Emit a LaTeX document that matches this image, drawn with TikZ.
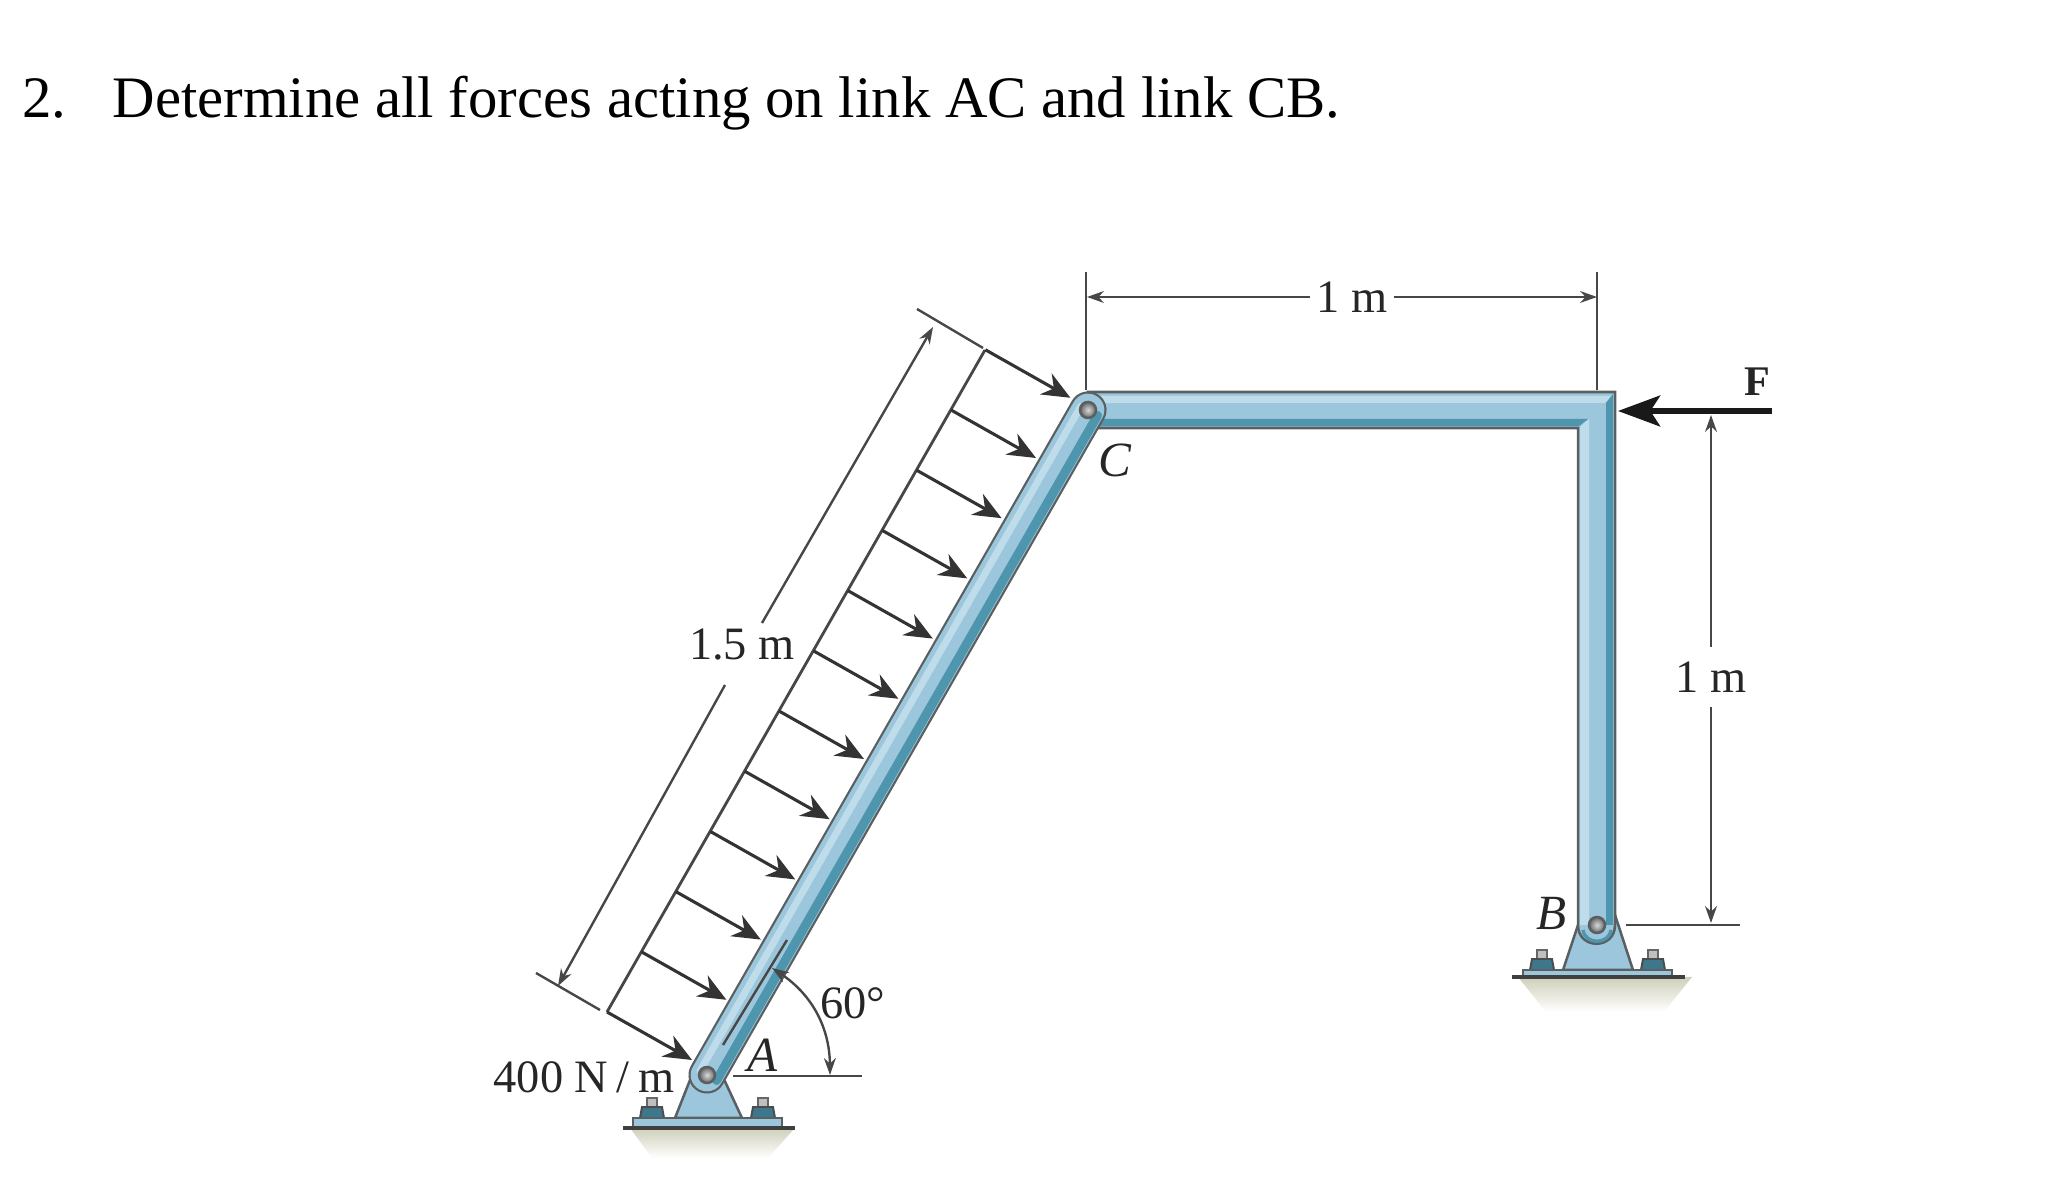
\documentclass[tikz,border=0pt]{standalone}
\usepackage{fontspec}
\setmainfont{Liberation Serif}
\usepackage{xcolor}
\usetikzlibrary{arrows.meta}
\definecolor{steelbody}{HTML}{9CC6DB}
\definecolor{steellight}{HTML}{BEDCE9}
\definecolor{steeldark}{HTML}{4E95AE}
\definecolor{steelline}{HTML}{5A6062}
\definecolor{groundtan}{HTML}{CFCFBA}
\tikzset{
    thinline/.style={color=black!72,line width=0.85pt},
    dimline/.style={thinline,{Stealth[length=6pt,width=4.2pt]}-{Stealth[length=6pt,width=4.2pt]}},
    dimhalf/.style={thinline,-{Stealth[length=6pt,width=4.2pt]}},
    loadarrow/.style={color=black!80,line width=1.1pt,-{Stealth[length=10pt,width=8.5pt]}},
    forcearrow/.style={color=black!90,line width=1.8pt,-{Stealth[length=15pt,width=11pt,inset=3.5pt]}},
    label/.style={font=\fontsize{16.5}{18}\selectfont,text=black!85,inner sep=2pt},
    pointname/.style={font=\fontsize{17.5}{18}\selectfont\itshape,text=black!85,inner sep=0pt},
    titletext/.style={font=\fontsize{20.9}{24}\selectfont,text=black,inner sep=0pt,anchor=base west},
    pinball/.style={draw=steelline,line width=0.9pt,inner color=black!15,outer color=black!60},
    steelpart/.style={draw=steelline,line width=0.9pt,fill=steelbody},
    nutpart/.style={draw=black!70,line width=0.7pt,fill=steeldark!80!black},
    boltpart/.style={draw=black!60,line width=0.6pt,fill=black!25}
}
\begin{document}
\begin{tikzpicture}[x=0.0125cm,y=-0.0125cm]
    \useasboundingbox (0,0) rectangle (2046,1185);

    % title
    \node[titletext] (num) at (22,118) {2.};
    \node[titletext] (title) at (112,118) {Determine all forces acting on link AC and link CB.};

    % pins
    \coordinate (A) at (707,1075);
    \coordinate (C) at (1088,410);
    \coordinate (B) at (1597,925);

    % ground shadow
    \shade[top color=groundtan,bottom color=white] (630,1128) -- (795,1128) -- (768,1158) -- (652,1158) -- cycle;
    \shade[top color=groundtan,bottom color=white] (1518,977) -- (1692,977) -- (1664,1012) -- (1546,1012) -- cycle;

    % bolts
    \foreach \bx/\by in {652/1118,763/1118,1542/970,1653/970} {
        \draw[boltpart] (\bx-5,\by-20) rectangle (\bx+5,\by-8);
        \draw[nutpart] (\bx-10,\by-11) -- (\bx+10,\by-11) -- (\bx+12,\by) -- (\bx-12,\by) -- cycle;
    }

    % supports
    \draw[steelpart] (675,1118) -- (692,1075) -- (722,1075) -- (742,1118) -- cycle;
    \draw[steelpart] (633,1118) rectangle (782,1128);
    \draw[steelpart] (1563,970) -- (1578,925) -- (1615,915) -- (1633,970) -- cycle;
    \draw[steelpart] (1523,970) rectangle (1672,977);
    \draw[color=black!75,line width=1.3pt] (623,1128) -- (795,1128);
    \draw[color=black!75,line width=1.3pt] (1512,977) -- (1685,977);

    % link CB
    \draw[steelpart] (1088,392) -- (1615,392) -- (1615,925) .. controls (1615,950) and (1578,950) .. (1578,925) -- (1578,428) -- (1088,428) -- cycle;
    \fill[steellight] (1088,396) -- (1611,396) -- (1605,403) -- (1088,403) -- cycle;
    \fill[steeldark] (1088,419) -- (1588,419) -- (1579,426) -- (1088,426) -- cycle;
    \fill[steellight] (1580,427) -- (1589,419) -- (1589,925) -- (1580,925) -- cycle;
    \fill[steeldark] (1613,394) -- (1613,925) -- (1606,925) -- (1606,403) -- cycle;
    \draw[steeldark,line width=1.2pt] (1583,930) .. controls (1585,945) and (1609,945) .. (1611,930);

    % link AC
    \draw[color=steelline,line width=13.2pt,line cap=round] (A) -- (C);
    \draw[color=steelbody,line width=11.6pt,line cap=round] (A) -- (C);
    \draw[color=steeldark,line width=3.2pt,line cap=round] ([shift={(9.5,5.5)}]A) -- ([shift={(9.5,5.5)}]C);
    \draw[color=steellight,line width=2.5pt,line cap=round] ([shift={(-7,-4)}]A) -- ([shift={(-7,-4)}]C);
    \draw[pinball] (A) circle (8);
    \draw[pinball] (C) circle (8);
    \draw[pinball] (B) circle (8);

    % distributed load
    \coordinate (loadbot) at (607,1012);
    \coordinate (loadtop) at (985,350);
    \draw[thinline,line width=1pt] (loadbot) -- (loadtop);
    \foreach \i in {0,...,11} {
        \coordinate (tail\i) at ({607+34.4*\i},{1012-60.2*\i});
        \coordinate (tip\i) at ({692+34.4*\i},{1060-60.2*\i});
        \draw[loadarrow] (tail\i) -- (tip\i);
    }

    % 1.5 m dimension
    \coordinate (extbotA) at (536,973);
    \coordinate (extbotB) at (600,1010);
    \coordinate (exttopA) at (917,309);
    \coordinate (exttopB) at (983,348);
    \coordinate (dimbot) at (558,986);
    \coordinate (dimtop) at (933,327);
    \coordinate (gaptop) at (762,623);
    \coordinate (gapbot) at (725,685);
    \draw[thinline] (extbotA) -- (extbotB);
    \draw[thinline] (exttopA) -- (exttopB);
    \node[label] (lenlabel) at (742,645) {1.5 m};
    \draw[dimhalf] (gaptop) -- (dimtop);
    \draw[dimhalf] (gapbot) -- (dimbot);

    % top 1 m dimension
    \coordinate (extCa) at (1086,272);
    \coordinate (extCb) at (1086,390);
    \coordinate (extFa) at (1597,272);
    \coordinate (extFb) at (1597,390);
    \coordinate (dimC) at (1087,297);
    \coordinate (dimF) at (1597,297);
    \draw[thinline] (extCa) -- (extCb);
    \draw[thinline] (extFa) -- (extFb);
    \node[label] (widthlabel) at (1352,297) {1 m};
    \draw[dimhalf] (widthlabel) -- (dimC);
    \draw[dimhalf] (widthlabel) -- (dimF);

    % right 1 m dimension
    \coordinate (extBa) at (1626,925);
    \coordinate (extBb) at (1740,925);
    \coordinate (dimFtop) at (1711,415);
    \coordinate (dimBbot) at (1711,923);
    \draw[thinline] (extBa) -- (extBb);
    \node[label,inner ysep=5pt] (heightlabel) at (1711,677) {1 m};
    \draw[dimhalf] (heightlabel) -- (dimFtop);
    \draw[dimhalf] (heightlabel) -- (dimBbot);

    % force F
    \coordinate (Fend) at (1772,411);
    \coordinate (Ftip) at (1618,411);
    \draw[forcearrow] (Fend) -- (Ftip);
    \node[label,font=\fontsize{15}{18}\selectfont\bfseries] (Flabel) at (1757,382) {F};

    % 60 degree angle
    \coordinate (horizA) at (733,1076);
    \coordinate (horizB) at (862,1076);
    \coordinate (axisA) at (723,1045);
    \coordinate (axisB) at (787,940);
    \coordinate (arcstart) at (772,968);
    \coordinate (arcend) at (830,1075);
    \draw[thinline] (horizA) -- (horizB);
    \draw[thinline] (axisA) -- (axisB);
    \draw[dimline] (arcstart) to[bend left=28] (arcend);
    \node[label,inner sep=0pt] (anglelabel) at (853,1003) {60°};

    % labels
    \node[label,inner sep=0pt] (loadlabel) at (584,1077) {400 N\kern3pt/\kern3pt m};
    \node[pointname] (Alabel) at (763,1055) {A};
    \node[pointname] (Clabel) at (1115,460) {C};
    \node[pointname] (Blabel) at (1552,913) {B};
\end{tikzpicture}
\end{document}
